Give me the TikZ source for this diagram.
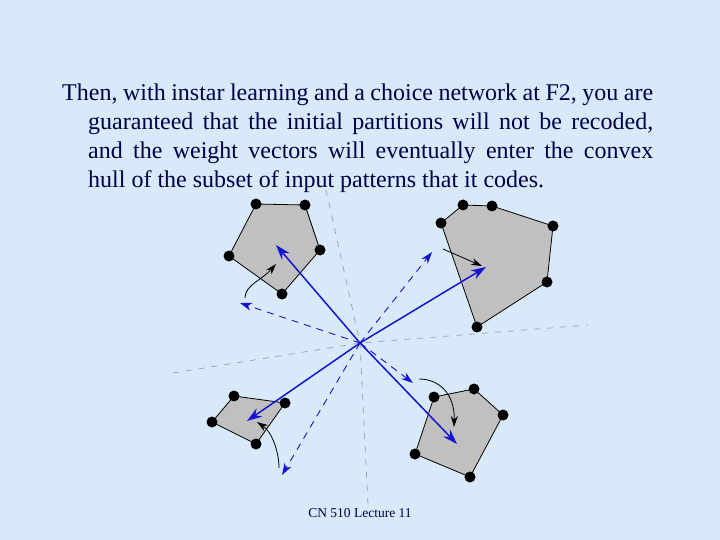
\documentclass[tikz,border=0pt]{standalone}
\usepackage{fontspec}
\setmainfont{Liberation Serif}
\usepackage{tikz}
\usetikzlibrary{arrows.meta}

\definecolor{slidebg}{RGB}{216,233,249}
\definecolor{navytext}{RGB}{0,0,72}
\definecolor{vecblue}{RGB}{20,20,210}
\definecolor{axisgray}{RGB}{150,160,180}
\definecolor{hullgray}{RGB}{192,192,192}

\begin{document}
\begin{tikzpicture}[x=1pt, y=-1pt]
    \tikzstyle{vertex}=[circle, fill=black, inner sep=0pt, minimum size=11pt]
    \tikzstyle{hull}=[draw=black, fill=hullgray, line width=0.8pt]
    \tikzstyle{axis}=[axisgray, dashed, dash pattern=on 6pt off 7pt, line width=0.7pt]
    \tikzstyle{connect}=[-{Stealth[length=15pt, width=10pt]}, vecblue, line width=1.5pt]
    \tikzstyle{old}=[-{Stealth[length=12pt, width=8pt]}, vecblue, line width=0.9pt, dash pattern=on 7pt off 6pt]
    \tikzstyle{move}=[-{Stealth[length=11pt, width=7pt]}, black, line width=0.8pt]
    \tikzstyle{line}=[anchor=base west, inner sep=0pt, navytext, font=\fontsize{24}{28.8}\selectfont]

    \fill[slidebg] (0,0) rectangle (720,540);
    \useasboundingbox (0,0) rectangle (720,540);

    % text
    \node[line] (line1) at (62,101) {\hbox to 591pt{Then, with instar learning and a choice network at F2, you are}};
    \node[line] (line2) at (88,130) {\hbox to 565pt{guaranteed\hfill that\hfill the\hfill initial\hfill partitions\hfill will\hfill not\hfill be\hfill recoded,}};
    \node[line] (line3) at (88,158.6) {\hbox to 565pt{and\hfill the\hfill weight\hfill vectors\hfill will\hfill eventually\hfill enter\hfill the\hfill convex}};
    \node[line] (line4) at (88,187.4) {hull of the subset of input patterns that it codes.};

    % axes
    \coordinate (O) at (360,343);
    \coordinate (atop) at (326,190);
    \coordinate (abot) at (368,505);
    \coordinate (aleft) at (173,373);
    \coordinate (aright) at (588,325);
    \draw[axis] (atop) -- (O) -- (abot);
    \draw[axis] (aleft) -- (O) -- (aright);

    % clusters
    \coordinate (tl1) at (256,204); \coordinate (tl2) at (305,205); \coordinate (tl3) at (320,250);
    \coordinate (tl4) at (282,294); \coordinate (tl5) at (229,256);
    \coordinate (tr1) at (441,223); \coordinate (tr2) at (463,205); \coordinate (tr3) at (492,206);
    \coordinate (tr4) at (553,226); \coordinate (tr5) at (547,282); \coordinate (tr6) at (477,327);
    \coordinate (bl1) at (234,396); \coordinate (bl2) at (285,403); \coordinate (bl3) at (256,444);
    \coordinate (bl4) at (212,422);
    \coordinate (br1) at (434,397); \coordinate (br2) at (474,389); \coordinate (br3) at (503,415);
    \coordinate (br4) at (470,477); \coordinate (br5) at (415,454);
    \draw[hull] (tl1) -- (tl2) -- (tl3) -- (tl4) -- (tl5) -- cycle;
    \draw[hull] (tr1) -- (tr2) -- (tr3) -- (tr4) -- (tr5) -- (tr6) -- cycle;
    \draw[hull] (bl1) -- (bl2) -- (bl3) -- (bl4) -- cycle;
    \draw[hull] (br1) -- (br2) -- (br3) -- (br4) -- (br5) -- cycle;
    \foreach \v in {tl1,tl2,tl3,tl4,tl5,tr1,tr2,tr3,tr4,tr5,tr6,bl1,bl2,bl3,bl4,br1,br2,br3,br4,br5}
        \node[vertex] at (\v) {};

    % weight vectors
    \coordinate (wtl) at (276,245);   \coordinate (otl) at (240,303);
    \coordinate (wtr) at (486,267);   \coordinate (otr) at (432,252);
    \coordinate (wbl) at (247,421);   \coordinate (obl) at (282,475);
    \coordinate (wbr) at (457,444);   \coordinate (obr) at (413,383);
    \path
      (O) edge [old] (otl)
      (O) edge [old] (otr)
      (O) edge [old] (obl)
      (O) edge [old] (obr)
      (O) edge [connect] (wtl)
      (O) edge [connect] (wtr)
      (O) edge [connect] (wbl)
      (O) edge [connect] (wbr);

    % learning moves
    \coordinate (mtl) at (245,298); \coordinate (ntl) at (276,264);
    \coordinate (mtr) at (443,249); \coordinate (ntr) at (482,266);
    \coordinate (mbl) at (279,468); \coordinate (nbl) at (257,422);
    \coordinate (mbr) at (419,379); \coordinate (nbr) at (454,427);
    \draw[move] (mtl) .. controls (245,285) and (262,280) .. (ntl);
    \draw[move] (mtr) -- (ntr);
    \draw[move] (mbl) .. controls (279,452) and (272,432) .. (nbl);
    \draw[move] (mbr) .. controls (440,379) and (455,395) .. (nbr);

    \node[anchor=base, inner sep=0pt, navytext, font=\fontsize{13.5}{16}\selectfont] (footer) at (360,517) {CN 510 Lecture 11};
\end{tikzpicture}
\end{document}
